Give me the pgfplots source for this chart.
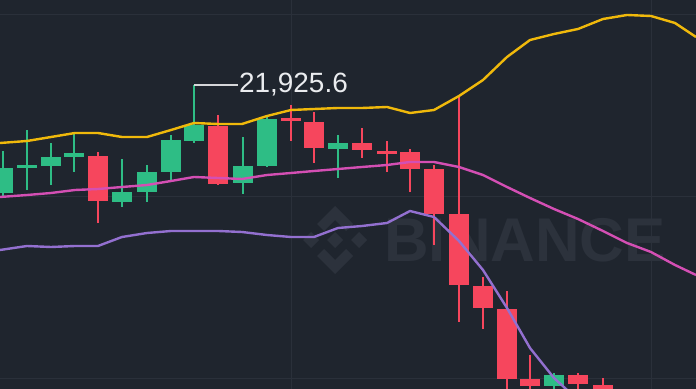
\documentclass[border=0pt]{standalone}
\usepackage{pgfplots}
\pgfplotsset{compat=1.18}
\usepackage{pgfplotstable}
\usepackage{fontspec}
\setmainfont{Liberation Sans}
\definecolor{bg}{HTML}{1F252E}
\definecolor{gridc}{HTML}{2A303A}
\definecolor{up}{HTML}{2EBD85}
\definecolor{down}{HTML}{F6465D}
\definecolor{bandup}{HTML}{F0B90B}
\definecolor{bandmid}{HTML}{D44FB4}
\definecolor{bandlow}{HTML}{9370D0}
\definecolor{wm}{HTML}{2C323C}
\definecolor{txt}{HTML}{EAECEF}

% x, open, high, low, close (chart units = pixels from bottom)
\pgfplotstableread{
x o h l c
3 196 238 192 221
27 221 259 199 224
51 223 246 204 232
74 232 257 217 236
122 187 230 182 197
147 197 224 187 217
171 217 254 209 249
194 248 304 246 264
243 206 252 195 223
267 223 272 222 270
338 240 254 211 246
554 3 16 -11 14
}\upcandles
\pgfplotstableread{
x o h l c
98 233 237 166 188
218 263 274 204 205
291 271 284 248 268
314 267 277 226 241
362 246 261 231 239
387 238 248 217 235
410 237 240 197 220
434 220 224 144 175
459 175 294 67 104
483 103 112 60 81
507 80 98 -11 10
530 10 34 -11 3
578 14 16 -11 5
603 4 11 -16 -6
}\downcandles

\begin{document}
\begin{tikzpicture}
\begin{axis}[
  width=696bp, height=389bp, scale only axis,
  xmin=0, xmax=696, ymin=0, ymax=389,
  axis background/.style={fill=bg},
  axis line style={draw=none},
  major tick length=0pt,
  xtick={291,651}, ytick={10,192,374},
  xticklabels={}, yticklabels={},
  xmajorgrids, ymajorgrids,
  major grid style={draw=gridc, line width=1bp},
]
% watermark
\begin{scope}[shift={(axis cs:335,149)}, x=1bp, y=1bp]
  \fill[wm] (0,-8) -- (8,0) -- (0,8) -- (-8,0) -- cycle;
  \fill[wm] (-24,-8) -- (-16,0) -- (-24,8) -- (-32,0) -- cycle;
  \fill[wm] (24,-8) -- (32,0) -- (24,8) -- (16,0) -- cycle;
  \fill[wm] (0,34) -- (18,16) -- (11,9) -- (0,20) -- (-11,9) -- (-18,16) -- cycle;
  \fill[wm] (0,-34) -- (18,-16) -- (11,-9) -- (0,-20) -- (-11,-9) -- (-18,-16) -- cycle;
\end{scope}
\node[wm, font=\fontsize{62}{62}\selectfont\bfseries, anchor=center] at (axis cs:525,149) {BINANCE};

% wicks
\addplot[draw=none, mark=none, forget plot,
  error bars/.cd, y dir=both, y explicit, error mark=none,
  error bar style={draw=up, line width=2.5bp}]
  table[x=x, y expr={(\thisrow{h}+\thisrow{l})/2}, y error expr={(\thisrow{h}-\thisrow{l})/2}] {\upcandles};
\addplot[draw=none, mark=none, forget plot,
  error bars/.cd, y dir=both, y explicit, error mark=none,
  error bar style={draw=down, line width=2.5bp}]
  table[x=x, y expr={(\thisrow{h}+\thisrow{l})/2}, y error expr={(\thisrow{h}-\thisrow{l})/2}] {\downcandles};
% bodies
\addplot[draw=none, mark=none, forget plot,
  error bars/.cd, y dir=both, y explicit, error mark=none,
  error bar style={draw=up, line width=20bp}]
  table[x=x, y expr={(\thisrow{o}+\thisrow{c})/2}, y error expr={max(abs(\thisrow{o}-\thisrow{c})/2,1.5)}] {\upcandles};
\addplot[draw=none, mark=none, forget plot,
  error bars/.cd, y dir=both, y explicit, error mark=none,
  error bar style={draw=down, line width=20bp}]
  table[x=x, y expr={(\thisrow{o}+\thisrow{c})/2}, y error expr={max(abs(\thisrow{o}-\thisrow{c})/2,1.5)}] {\downcandles};

% Bollinger bands
\addplot[bandup, line width=2.4bp, line join=round, mark=none] coordinates {
(0,246) (27,248) (51,252) (75,256) (98,256) (122,252) (147,252) (171,259) (194,266) (218,265) (242,265) (267,273) (291,279) (314,280) (338,281) (362,281) (387,282) (410,276) (434,279) (459,293) (483,309) (507,332) (530,349) (554,355) (578,360) (603,370) (627,374) (651,373) (675,366) (696,352)};
\addplot[bandmid, line width=2.4bp, line join=round, mark=none] coordinates {
(0,192) (27,194) (51,196) (75,199) (98,200) (122,202) (147,204) (171,208) (194,212) (218,211) (242,210) (267,214) (291,216) (314,218) (338,220) (362,222) (387,224) (410,227) (434,227) (459,222) (483,214) (507,202) (530,191) (554,180) (578,170) (603,158) (627,146) (651,137) (675,124) (696,114)};
\addplot[bandlow, line width=2.4bp, line join=round, mark=none] coordinates {
(0,139) (27,143) (51,142) (75,143) (98,143) (122,152) (147,156) (171,158) (194,158) (218,158) (242,157) (267,154) (291,152) (314,152) (338,161) (362,163) (387,166) (410,178) (434,172) (459,148) (483,119) (507,81) (530,41) (554,11) (578,-11) (603,-31)};

% high annotation
\draw[color=txt!80!gray, line width=1.2bp] (axis cs:194,304) -- (axis cs:238,304);
\node[txt, anchor=west, inner sep=0pt, font=\fontsize{28}{28}\selectfont] at (axis cs:239,304) {21,925.6};
\end{axis}
\pgfresetboundingbox
\path[use as bounding box] (current axis.south west) rectangle (current axis.north east);
\end{tikzpicture}
\end{document}
